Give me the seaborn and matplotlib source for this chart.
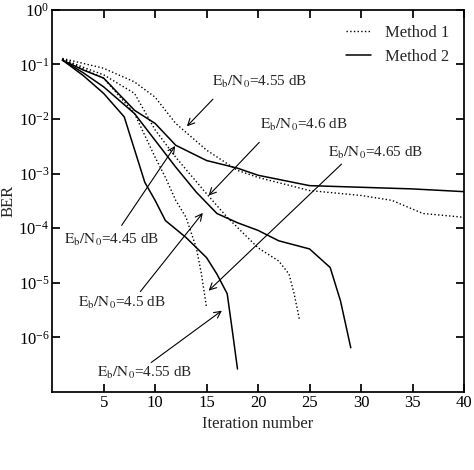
import numpy as np
import matplotlib
matplotlib.use("Agg")
import matplotlib.pyplot as plt
import seaborn as sns

sns.set_theme(style="ticks")
plt.rcParams['font.family'] = ['Liberation Serif', 'DejaVu Serif']
plt.rcParams['mathtext.fontset'] = 'stix'

# Method 2 (solid) curves, log10(BER)
a_x = [1, 3, 5, 8, 10, 12, 15, 18, 20, 25, 30, 35, 40]
a_y = [-0.92, -1.1, -1.25, -1.84, -2.08, -2.48, -2.76, -2.9, -3.03, -3.22, -3.25, -3.28, -3.33]
b_x = [1, 3, 5, 8, 10, 12, 14, 16, 18, 20, 22, 25, 27, 28, 29]
b_y = [-0.92, -1.15, -1.41, -1.9, -2.39, -2.88, -3.34, -3.73, -3.9, -4.04, -4.23, -4.38, -4.72, -5.33, -6.19]
c_x = [1, 3, 5, 7, 9, 10, 11, 13, 15, 16, 17, 17.5, 18]
c_y = [-0.92, -1.2, -1.53, -1.96, -3.16, -3.49, -3.86, -4.17, -4.54, -4.84, -5.2, -5.88, -6.58]
# Method 1 (dotted) curves
d_x = [1, 5, 8, 10, 12, 15, 18, 20, 25, 30, 33, 36, 40]
d_y = [-0.89, -1.07, -1.32, -1.6, -2.08, -2.57, -2.94, -3.07, -3.31, -3.4, -3.49, -3.73, -3.8]
e_x = [1, 3, 5, 8, 10, 12, 15, 17, 20, 22, 23, 23.5, 24]
e_y = [-0.9, -1.05, -1.19, -1.53, -2.2, -2.7, -3.37, -3.8, -4.36, -4.6, -4.84, -5.2, -5.66]
f_x = [1, 3, 5, 8, 10, 11, 12, 13, 14, 14.5, 15]
f_y = [-0.9, -1.08, -1.25, -1.9, -2.7, -3.07, -3.49, -3.8, -4.36, -4.84, -5.46]

fig = plt.figure(figsize=(4.74, 4.7), dpi=100)
ax = fig.add_axes([0.11, 0.166, 0.869, 0.813])

for xs, ys in [(d_x, d_y), (e_x, e_y), (f_x, f_y)]:
    sns.lineplot(x=xs, y=10 ** np.array(ys), ax=ax, color='black', lw=1.0, linestyle=':')
for xs, ys in [(a_x, a_y), (b_x, b_y), (c_x, c_y)]:
    sns.lineplot(x=xs, y=10 ** np.array(ys), ax=ax, color='black', lw=1.1)

ax.set_yscale('log')
ax.set_xlim(0, 40)
ax.set_ylim(1e-7, 1)
ax.set_xticks([5, 10, 15, 20, 25, 30, 35, 40])
ax.set_yticks([1, 1e-1, 1e-2, 1e-3, 1e-4, 1e-5, 1e-6])
ax.minorticks_off()
ax.tick_params(direction='in', top=True, right=True, labelsize=12, colors='black', pad=2)
for s in ax.spines.values():
    s.set_color('black')
ax.set_xlabel('Iteration number', fontsize=12)
ax.set_ylabel('BER', fontsize=12, labelpad=1)

# annotations: (text x, log y, arrow start x, log y, arrow end x, log y)
notes = [
    ('4.55', 20.1, -1.32, 15.8, -1.6, 12.9, -2.17),
    ('4.6', 24.4, -2.11, 20.3, -2.39, 15.0, -3.44),
    ('4.65', 31.4, -2.63, 28.3, -2.79, 15.0, -5.18),
    ('4.45', 5.8, -4.21, 6.6, -3.99, 12.1, -2.45),
    ('4.5', 6.8, -5.37, 8.4, -5.2, 14.8, -3.68),
    ('4.55', 9.0, -6.65, 9.4, -6.49, 16.7, -5.48),
]
for val, tx, ty, sx, sy, ex, ey in notes:
    ax.text(tx, 10 ** ty, r'$\mathrm{E_b/N_0}$=' + val + ' dB', fontsize=11, ha='center', va='center')
    ax.annotate('', xy=(ex, 10 ** ey), xytext=(sx, 10 ** sy),
                arrowprops=dict(arrowstyle='->', color='black', lw=0.8))

ax.plot([], [], color='black', linestyle=':', lw=1.0, label='Method 1')
ax.plot([], [], color='black', lw=1.1, label='Method 2')
ax.legend(loc='upper right', frameon=False, fontsize=12, handlelength=1.5)

fig.savefig('out.png', dpi=100)
